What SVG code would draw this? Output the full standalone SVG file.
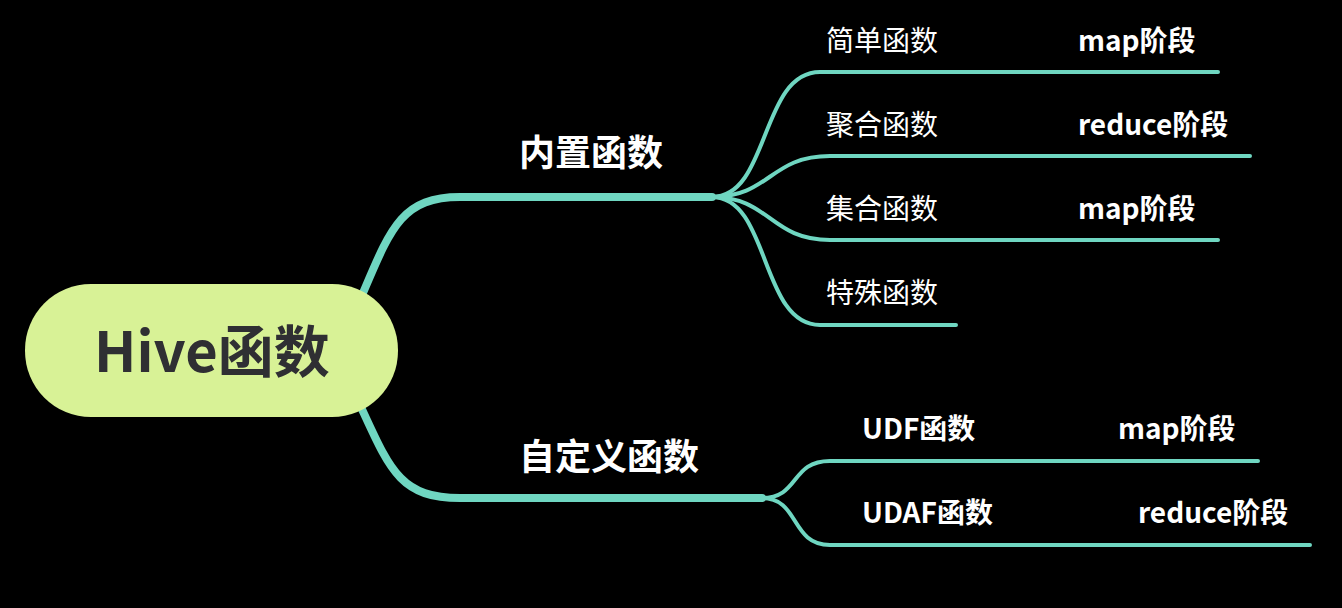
<svg xmlns="http://www.w3.org/2000/svg" width="1342" height="608" viewBox="0 0 1342 608">
<style>
.c{fill:none;stroke:#6fd6c1;stroke-linecap:round}
.t{font-family:"Noto Sans CJK SC","Noto Sans",sans-serif;fill:#fff}
.l{font-size:28px}
.s{font-size:28px;font-weight:600}
.b{font-size:36px;font-weight:700}
</style>
<rect width="1342" height="608" fill="#000"/>
<g id="connectors">
<path class="c" stroke-width="8" d="M360,300 C390,230 400,197 460,197 L712,197"/>
<path class="c" stroke-width="8" d="M360,405 C390,470 400,498 460,498 L762,498"/>
<path class="c" stroke-width="4" d="M712,197 C770,197 760,72 820,72 L1218,72"/>
<path class="c" stroke-width="4" d="M712,197 C770,197 770,156 830,156 L1250,156"/>
<path class="c" stroke-width="4" d="M712,197 C770,197 770,240 830,240 L1218,240"/>
<path class="c" stroke-width="4" d="M712,197 C770,197 760,325 820,325 L956,325"/>
<path class="c" stroke-width="4" d="M762,498 C800,498 790,461 830,461 L1258,461"/>
<path class="c" stroke-width="4" d="M762,498 C800,498 790,545 830,545 L1310,545"/>
</g>
<g id="root"><rect x="25" y="284" width="373" height="133" rx="66" fill="#d8f296"/>
<text class="t" x="212" y="372" text-anchor="middle" font-size="56" font-weight="700" style="fill:#2f2f33">Hive函数</text></g>
<g id="builtin"><text class="t b" x="519" y="166">内置函数</text></g>
<g id="custom"><text class="t b" x="519" y="470">自定义函数</text></g>
<g id="n1"><text class="t l" x="826" y="51">简单函数</text><text class="t s" x="1078" y="51">map阶段</text></g>
<g id="n2"><text class="t l" x="826" y="135">聚合函数</text><text class="t s" x="1078" y="135">reduce阶段</text></g>
<g id="n3"><text class="t l" x="826" y="219">集合函数</text><text class="t s" x="1078" y="219">map阶段</text></g>
<g id="n4"><text class="t l" x="826" y="303">特殊函数</text></g>
<g id="n5"><text class="t s" x="862" y="439">UDF函数</text><text class="t s" x="1118" y="439">map阶段</text></g>
<g id="n6"><text class="t s" x="862" y="523">UDAF函数</text><text class="t s" x="1138" y="523">reduce阶段</text></g>
</svg>
